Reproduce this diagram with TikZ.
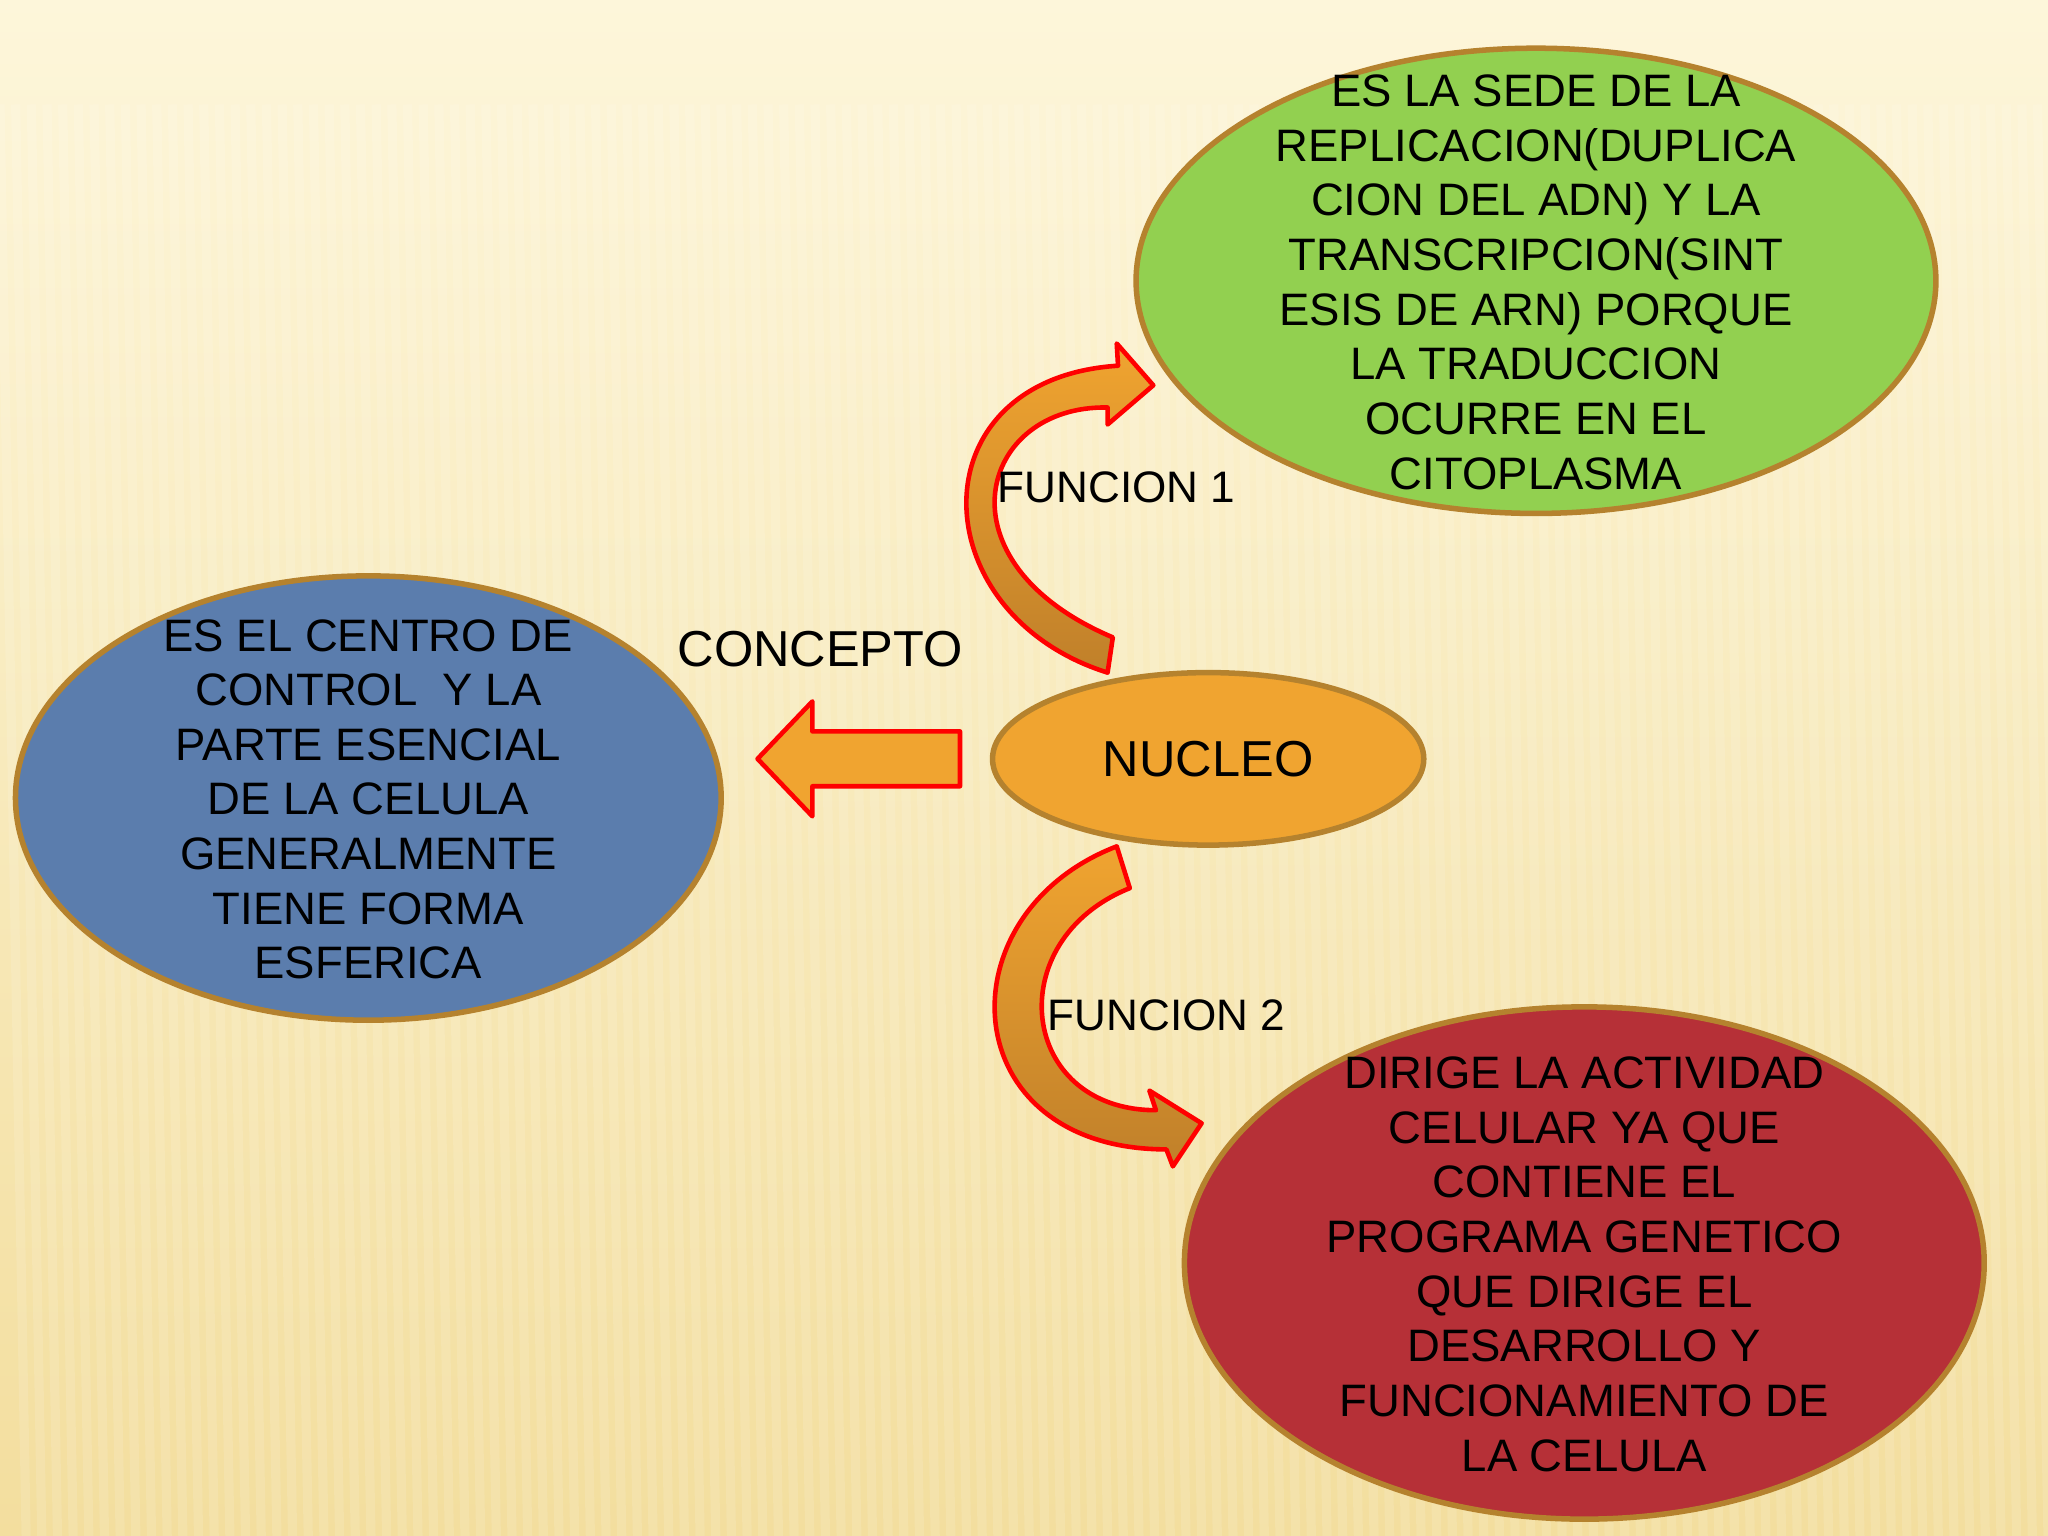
\documentclass[tikz,border=0pt]{standalone}
\usepackage{fontspec}
\setmainfont{Liberation Sans}
\usetikzlibrary{positioning,shapes.geometric}
\definecolor{bgtop}{HTML}{FDF6DA}
\definecolor{bgbot}{HTML}{F3DE9E}
\definecolor{rim}{HTML}{B5822E}
\definecolor{leafgreen}{HTML}{92D050}
\definecolor{steel}{HTML}{5B7DAD}
\definecolor{wine}{HTML}{B63037}
\definecolor{amber}{HTML}{F0A430}
\definecolor{rust}{HTML}{C0802A}
\tikzset{
  bubble/.style={ellipse, draw=rim, line width=1.2pt, inner sep=0pt},
  words/.style={align=center, font=\fontsize{9.9}{11.9}\selectfont},
  tag/.style={font=\fontsize{9.6}{11}\selectfont},
  bent/.style={draw=red, line width=1pt, line join=round, top color=amber, bottom color=rust}
}
\begin{document}
\begin{tikzpicture}[x=0.01cm, y=-0.01cm, line join = round]
    \useasboundingbox (0,0) rectangle (1568,1176);
    \shade[top color=bgtop, bottom color=bgbot] (0,0) rectangle (1568,1176);
    \begin{scope}
        \clip (0,0) rectangle (1568,1176);
        \foreach \i in {0,12,...,1580}
            \draw[white, opacity=.12, line width=2pt] (\i,80) -- (\i+20,1176);
    \end{scope}

    \node[bubble, fill=amber, minimum width=3.3cm, minimum height=1.32cm] (nucleo) at (925,581) {};
    \node[bubble, fill=steel, minimum width=5.4cm, minimum height=3.4cm] (concepto) at (282,611) {};
    \node[bubble, fill=leafgreen, minimum width=6.12cm, minimum height=3.56cm] (fun1) at (1176,215) {};
    \node[bubble, fill=wine, minimum width=6.12cm, minimum height=3.92cm] (fun2) at (1213,967) {};

    \node[font=\fontsize{11}{13}\selectfont] at (nucleo) {NUCLEO};
    \node[words] at (282,612)
        {ES EL CENTRO DE\\CONTROL \ Y LA\\PARTE ESENCIAL\\DE LA CELULA\\GENERALMENTE\\TIENE FORMA\\ESFERICA};
    \node[words] at (1176,216)
        {ES LA SEDE DE LA\\REPLICACION(DUPLICA\\CION DEL ADN) Y LA\\TRANSCRIPCION(SINT\\ESIS DE ARN) PORQUE\\LA TRADUCCION\\OCURRE EN EL\\CITOPLASMA};
    \node[words] at (1213,968)
        {DIRIGE LA ACTIVIDAD\\CELULAR YA QUE\\CONTIENE EL\\PROGRAMA GENETICO\\QUE DIRIGE EL\\DESARROLLO Y\\FUNCIONAMIENTO DE\\LA CELULA};

    % flechas
    \draw[draw=red, line width=1pt, fill=amber]
        (735,560) -- (622,560) -- (622,537) -- (580,581) -- (622,625) -- (622,602) -- (735,602) -- cycle;
    \draw[bent] (848,515) .. controls (705,470) and (700,290) .. (856,280)
        -- (855,263) -- (883,295) -- (848,325) -- (848,312)
        .. controls (750,310) and (715,430) .. (852,488) -- cycle;
    \draw[bent] (855,648) .. controls (720,700) and (730,880) .. (893,880)
        -- (898,893) -- (920,860) -- (880,835) -- (885,850)
        .. controls (780,850) and (765,720) .. (865,680) -- cycle;

    \node[tag] (t1) at (855,373) {FUNCION 1};
    \node[tag] (t2) at (893,777) {FUNCION 2};
    \node[font=\fontsize{11}{13}\selectfont] (t0) at (628,497) {CONCEPTO};
\end{tikzpicture}
\end{document}
